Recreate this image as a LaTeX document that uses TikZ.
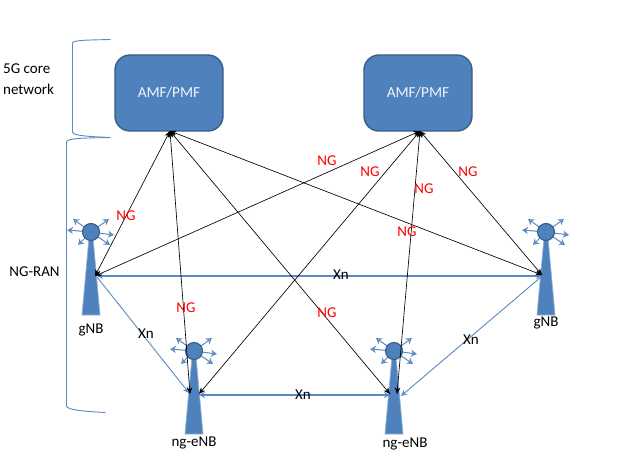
\documentclass[tikz,border=0pt]{standalone}
\usepackage{fontspec}
\setmainfont{Carlito}
\usetikzlibrary{arrows.meta}
\definecolor{fillblue}{HTML}{4F81BD}
\definecolor{edgeblue}{HTML}{385D8A}
\definecolor{lineblue}{HTML}{5B8AC2}
\definecolor{glowblue}{HTML}{8FB0DA}
\tikzset{
  amfbox/.style={draw=edgeblue,line width=1.4pt,fill=fillblue,rounded corners=15pt,minimum width=108pt,minimum height=76pt,inner sep=0pt,text=white!92!fillblue,font=\fontsize{15.3}{17}\selectfont},
  corelink/.style={black,line width=0.65pt,{Stealth[length=6.5pt,width=5.5pt]}-{Stealth[length=6.5pt,width=5.5pt]}},
  xnlink/.style={lineblue,line width=1.2pt,{Stealth[length=6pt,width=6pt,open]}-{Stealth[length=6pt,width=6pt,open]}},
  xnoneway/.style={lineblue,line width=0.9pt,-{Stealth[length=6pt,width=6pt,open]}},
  beamlink/.style={lineblue,line width=1pt,-{Stealth[length=6pt,width=7pt,open]}},
  brackline/.style={lineblue,line width=0.9pt},
  mast/.style={fill=fillblue,draw=glowblue,line width=0.7pt},
  head/.style={circle,draw=edgeblue,line width=1.1pt,fill=fillblue,minimum size=17pt,inner sep=0pt},
  nglabel/.style={text=red,font=\fontsize{15}{17}\selectfont,inner sep=0pt},
  txt/.style={text=black,font=\fontsize{15}{17}\selectfont,inner sep=0pt},
}
\newcommand{\basestation}[3]{%
  \draw[mast] (#2-2,#3+6) -- (#2+2,#3+6) -- (#2+9,#3+83) -- (#2-9,#3+83) -- cycle;
  \foreach \tipx/\tipy in {-18/-13,18/-13,-24/-2,23/3,-13/13,19/13}
    \draw[beamlink] (#2,#3) -- (#2+\tipx,#3+\tipy);
  \node[head] (#1) at (#2,#3) {};
}
\begin{document}
\begin{tikzpicture}[x=1pt,y=-1pt]
\path[use as bounding box,fill=white] (0,0) rectangle (631,465);
% core boxes
\node[amfbox] (amfa) at (169,93) {AMF/PMF};
\node[amfbox] (amfb) at (418,93) {AMF/PMF};
% base stations
\basestation{gnba}{91}{232}
\basestation{gnbb}{546}{232}
\basestation{enba}{194}{351}
\basestation{enbb}{394}{351}
% connection points
\coordinate (ca) at (170,131);
\coordinate (cb) at (420,131);
\coordinate (ga) at (95,276);
\coordinate (gax) at (97,276);
\coordinate (gaz) at (97,277);
\coordinate (gb) at (542,275);
\coordinate (gbx) at (542,276);
\coordinate (gbz) at (541,277);
\coordinate (ea) at (190,394);
\coordinate (eb) at (199,394);
\coordinate (ez) at (189,393);
\coordinate (ex) at (199,395);
\coordinate (fa) at (390,394);
\coordinate (fb) at (397,394);
\coordinate (fx) at (390,395);
\coordinate (fz) at (401,396);
% Xn links
\draw[xnlink] (gax) -- (gbx);
\draw[xnoneway] (gaz) -- (ez);
\draw[xnlink] (ex) -- (fx);
\draw[xnoneway] (gbz) -- (fz);
% NG links
\draw[corelink] (ca) -- (ga);
\draw[corelink] (ca) -- (gb);
\draw[corelink] (cb) -- (ga);
\draw[corelink] (cb) -- (gb);
\draw[corelink] (ca) -- (ea);
\draw[corelink] (ca) -- (fa);
\draw[corelink] (cb) -- (eb);
\draw[corelink] (cb) -- (fb);
% brackets
\draw[brackline] (110.5,39.5) .. controls (90,40) and (73,40) .. (72.5,43) -- (72.5,132) .. controls (73,136) and (90,136.5) .. (110.5,137.5);
\draw[brackline] (110.5,137.5) .. controls (85,138) and (67,138) .. (66.5,142) -- (66.5,406) .. controls (67,410) and (85,411.5) .. (105.5,412.5);
% NG labels
\node[nglabel] (nga) at (126,216) {NG};
\node[nglabel] (ngb) at (186,308) {NG};
\node[nglabel] (ngc) at (327,161) {NG};
\node[nglabel] (ngd) at (370,172) {NG};
\node[nglabel] (nge) at (424,189) {NG};
\node[nglabel] (ngf) at (468,172) {NG};
\node[nglabel] (ngg) at (407,232) {NG};
\node[nglabel] (ngh) at (327,313) {NG};
% Xn labels
\node[txt] (xna) at (341,275) {Xn};
\node[txt] (xnb) at (146,334) {Xn};
\node[txt] (xnc) at (303,395) {Xn};
\node[txt] (xnd) at (471,340) {Xn};
% text labels
\node[txt] (lgna) at (91,330) {gNB};
\node[txt] (lgnb) at (546,323) {gNB};
\node[txt] (lena) at (194,443) {ng-eNB};
\node[txt] (lenb) at (405,444) {ng-eNB};
\node[txt,anchor=west] (lcorea) at (3,69) {5G core};
\node[txt,anchor=west] (lcoreb) at (3,89) {network};
\node[txt] (lran) at (34.5,272) {NG-RAN};
\end{tikzpicture}
\end{document}
